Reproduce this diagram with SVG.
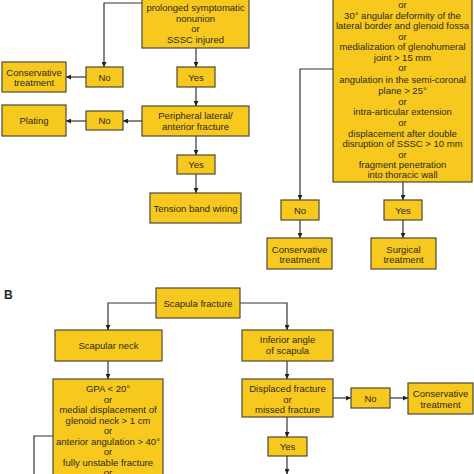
<svg xmlns="http://www.w3.org/2000/svg" width="474" height="474" viewBox="0 0 474 474">
<defs>
<style>
.b{fill:#F7C81E;stroke:#4f4832;stroke-width:1.2}
.t{font-family:"Liberation Sans",Arial,sans-serif;font-size:9.5px;fill:#2e2a1e;text-anchor:middle}
.c{fill:none;stroke:#333;stroke-width:1.2}
</style>
<marker id="a" viewBox="0 0 10 10" refX="10" refY="5" markerWidth="5" markerHeight="5" orient="auto" markerUnits="userSpaceOnUse">
<path d="M0,0L10,5L0,10z" fill="#222"/>
</marker>
</defs>
<rect width="474" height="474" fill="#fff"/>
<g id="connectors">
<path class="c" d="M142,3H104V67" marker-end="url(#a)"/>
<path class="c" d="M86,77H66" marker-end="url(#a)"/>
<path class="c" d="M196,48V67" marker-end="url(#a)"/>
<path class="c" d="M196,87V106" marker-end="url(#a)"/>
<path class="c" d="M142,121H123" marker-end="url(#a)"/>
<path class="c" d="M86,121H66" marker-end="url(#a)"/>
<path class="c" d="M196,136V155" marker-end="url(#a)"/>
<path class="c" d="M196,174V193" marker-end="url(#a)"/>
<path class="c" d="M333,69H300V200" marker-end="url(#a)"/>
<path class="c" d="M403,182V200" marker-end="url(#a)"/>
<path class="c" d="M300,220V238" marker-end="url(#a)"/>
<path class="c" d="M403,220V238" marker-end="url(#a)"/>
<path class="c" d="M156,303H108V330" marker-end="url(#a)"/>
<path class="c" d="M240,303H287V330" marker-end="url(#a)"/>
<path class="c" d="M108,361V379" marker-end="url(#a)"/>
<path class="c" d="M53,436H34V474"/>
<path class="c" d="M287,361V379" marker-end="url(#a)"/>
<path class="c" d="M333,398H351" marker-end="url(#a)"/>
<path class="c" d="M390,398H408" marker-end="url(#a)"/>
<path class="c" d="M287,417V437" marker-end="url(#a)"/>
<path class="c" d="M287,456V474" marker-end="url(#a)"/>
</g>
<g id="n_nonunion"><rect class="b" x="142" y="-10" width="107" height="58"/>
<text class="t" x="195.5" y="11">prolonged symptomatic</text><text class="t" x="195.5" y="21.5">nonunion</text><text class="t" x="195.5" y="32">or</text><text class="t" x="195.5" y="42.5">SSSC injured</text></g>
<g id="n_cons1"><rect class="b" x="2" y="62" width="64" height="30"/><text class="t" x="34" y="75.5">Conservative</text><text class="t" x="34" y="85.5">treatment</text></g>
<g id="n_no1"><rect class="b" x="86" y="67" width="37" height="20"/><text class="t" x="104.5" y="80.5">No</text></g>
<g id="n_yes1"><rect class="b" x="177" y="67" width="38" height="20"/><text class="t" x="196" y="80.5">Yes</text></g>
<g id="n_plating"><rect class="b" x="2" y="105" width="64" height="31"/><text class="t" x="34" y="124">Plating</text></g>
<g id="n_no2"><rect class="b" x="86" y="111" width="37" height="19"/><text class="t" x="104.5" y="124">No</text></g>
<g id="n_periph"><rect class="b" x="142" y="106" width="107" height="30"/><text class="t" x="195.5" y="119">Peripheral lateral/</text><text class="t" x="195.5" y="130">anterior fracture</text></g>
<g id="n_yes2"><rect class="b" x="177" y="155" width="38" height="19"/><text class="t" x="196" y="168">Yes</text></g>
<g id="n_tension"><rect class="b" x="150" y="193" width="91" height="30"/><text class="t" x="195.5" y="211.5">Tension band wiring</text></g>
<g id="n_criteria"><rect class="b" x="333" y="-10" width="139" height="192"/>
<text class="t" x="402.5" y="7.5">or</text>
<text class="t" x="402.5" y="18.5">30° angular deformity of the</text>
<text class="t" x="402.5" y="29">lateral border and glenoid fossa</text>
<text class="t" x="402.5" y="39.5">or</text>
<text class="t" x="402.5" y="50">medialization of glenohumeral</text>
<text class="t" x="402.5" y="60.5">joint &gt; 15 mm</text>
<text class="t" x="402.5" y="71">or</text>
<text class="t" x="402.5" y="83">angulation in the semi-coronal</text>
<text class="t" x="402.5" y="93.5">plane &gt; 25°</text>
<text class="t" x="402.5" y="104.5">or</text>
<text class="t" x="402.5" y="115">intra-articular extension</text>
<text class="t" x="402.5" y="125.5">or</text>
<text class="t" x="402.5" y="136.5">displacement after double</text>
<text class="t" x="402.5" y="147">disruption of SSSC &gt; 10 mm</text>
<text class="t" x="402.5" y="157.5">or</text>
<text class="t" x="402.5" y="168">fragment penetration</text>
<text class="t" x="402.5" y="178">into thoracic wall</text></g>
<g id="n_no3"><rect class="b" x="281" y="200" width="38" height="20"/><text class="t" x="300" y="213.5">No</text></g>
<g id="n_yes3"><rect class="b" x="384" y="200" width="38" height="20"/><text class="t" x="403" y="213.5">Yes</text></g>
<g id="n_cons2"><rect class="b" x="267" y="238" width="65" height="31"/><text class="t" x="299.5" y="252.5">Conservative</text><text class="t" x="299.5" y="262.5">treatment</text></g>
<g id="n_surg"><rect class="b" x="371" y="238" width="65" height="31"/><text class="t" x="403.5" y="252.5">Surgical</text><text class="t" x="403.5" y="262.5">treatment</text></g>
<text x="4" y="299" font-family="Liberation Sans,Arial,sans-serif" font-size="12" font-weight="bold" fill="#222">B</text>
<g id="n_scapfx"><rect class="b" x="156" y="288" width="84" height="30"/><text class="t" x="198" y="306.5">Scapula fracture</text></g>
<g id="n_neck"><rect class="b" x="55" y="330" width="107" height="31"/><text class="t" x="108.5" y="349">Scapular neck</text></g>
<g id="n_gpa"><rect class="b" x="53" y="379" width="110" height="105"/>
<text class="t" x="108" y="392">GPA &lt; 20°</text>
<text class="t" x="108" y="402.5">or</text>
<text class="t" x="108" y="413">medial displacement of</text>
<text class="t" x="108" y="423.5">glenoid neck &gt; 1 cm</text>
<text class="t" x="108" y="434">or</text>
<text class="t" x="108" y="444.5">anterior angulation &gt; 40°</text>
<text class="t" x="108" y="455">or</text>
<text class="t" x="108" y="465.5">fully unstable fracture</text>
<text class="t" x="108" y="476">or</text></g>
<g id="n_inf"><rect class="b" x="242" y="330" width="91" height="31"/><text class="t" x="287.5" y="343">Inferior angle</text><text class="t" x="287.5" y="353.5">of scapula</text></g>
<g id="n_disp"><rect class="b" x="242" y="379" width="91" height="38"/><text class="t" x="287.5" y="392">Displaced fracture</text><text class="t" x="287.5" y="402.5">or</text><text class="t" x="287.5" y="413">missed fracture</text></g>
<g id="n_no4"><rect class="b" x="351" y="388" width="39" height="20"/><text class="t" x="370.5" y="401.5">No</text></g>
<g id="n_cons3"><rect class="b" x="408" y="383" width="65" height="31"/><text class="t" x="440.5" y="397">Conservative</text><text class="t" x="440.5" y="407.5">treatment</text></g>
<g id="n_yes4"><rect class="b" x="268" y="437" width="39" height="19"/><text class="t" x="287.5" y="450">Yes</text></g>
</svg>
